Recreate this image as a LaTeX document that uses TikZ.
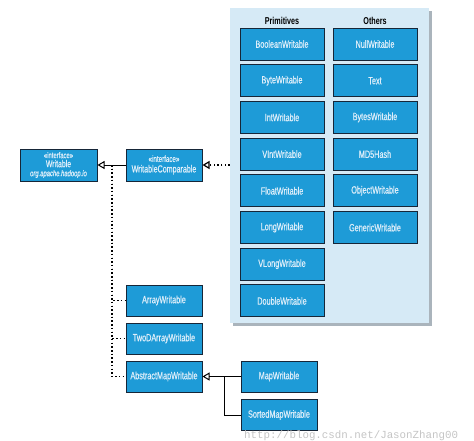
\documentclass[tikz,border=0pt]{standalone}
\usepackage{fontspec}
\setmainfont{Liberation Sans}[FakeStretch=0.72]
\newfontfamily\boxfont{Liberation Sans}[FakeStretch=0.69, FakeBold=0.6]
\newfontfamily\wmfont{Liberation Mono}
\usetikzlibrary{arrows.meta}
\definecolor{boxblue}{RGB}{30,155,215}
\definecolor{boxedge}{RGB}{22,38,56}
\definecolor{boxtext}{RGB}{222,238,250}
\definecolor{panelfill}{RGB}{214,234,246}
\definecolor{shadowc}{RGB}{170,180,188}
\definecolor{wmgray}{RGB}{196,196,196}
\tikzset{
  cls/.style={draw=boxedge, line width=1pt, fill=boxblue, text=boxtext,
    minimum width=84pt, minimum height=32pt, inner sep=0pt, align=center,
    font=\boxfont\fontsize{10.5}{11}\selectfont},
  clsn/.style={cls, minimum width=76pt},
  hdr/.style={font=\bfseries\fontsize{10}{10}\selectfont, text=black, inner sep=0pt},
  inh/.style={line width=1pt, -{Triangle[open, length=7pt, width=8pt]}},
  real/.style={line width=1.2pt, dash pattern=on 1.5pt off 2.2pt, -{Triangle[open, length=7pt, width=8pt]}},
  dotl/.style={line width=1.2pt, dash pattern=on 1.5pt off 2.2pt},
  solidl/.style={line width=1pt},
}
\begin{document}
\begin{tikzpicture}[x=1pt,y=-1pt]
\useasboundingbox (0,0) rectangle (474,440);
% panel with shadow
\fill[shadowc] (233,11) rectangle (432,326);
\node[fill=panelfill, minimum width=199pt, minimum height=315pt, inner sep=0pt] (panel) at (329.5,165.5) {};
\node[hdr] (hp) at (282,21) {Primitives};
\node[hdr] (ho) at (375,21) {Others};
% primitives
\node[cls] (p1) at (282,44) {BooleanWritable};
\node[cls] (p2) at (282,80.7) {ByteWritable};
\node[cls] (p3) at (282,117.4) {IntWritable};
\node[cls] (p4) at (282,154.1) {VIntWritable};
\node[cls] (p5) at (282,190.8) {FloatWritable};
\node[cls] (p6) at (282,227.5) {LongWritable};
\node[cls] (p7) at (282,264.2) {VLongWritable};
\node[cls] (p8) at (282,300.9) {DoubleWritable};
% others
\node[cls] (o1) at (375,44) {NullWritable};
\node[cls] (o2) at (375,80.7) {Text};
\node[cls] (o3) at (375,117.4) {BytesWritable};
\node[cls] (o4) at (375,154.1) {MD5Hash};
\node[cls] (o5) at (375,190.8) {ObjectWritable};
\node[cls] (o6) at (375,227.5) {GenericWritable};
% interfaces
\node[clsn, minimum width=77pt, font=\boxfont\fontsize{8.5}{9}\selectfont] (w) at (58.5,165)
  {«interface»\\{\fontsize{10}{9}\selectfont Writable}\\\textit{org.apache.hadoop.io}};
\node[clsn, font=\boxfont\fontsize{10.3}{10.5}\selectfont] (wc) at (164,165) {{\fontsize{9}{10}\selectfont «interface»}\\WritableComparable};
% lower classes
\node[clsn, minimum height=31pt] (aw) at (164,300.5) {ArrayWritable};
\node[clsn, minimum height=31pt] (tw) at (164,338.5) {TwoDArrayWritable};
\node[clsn, minimum height=31pt] (amw) at (164,376.5) {AbstractMapWritable};
\node[clsn, minimum height=31pt] (mw) at (279,376.5) {MapWritable};
\node[clsn, minimum height=31pt] (smw) at (279,415) {SortedMapWritable};
% connectors
\draw[inh] (wc.west) -- (w.east);
\draw[real] (panel.west |- wc.east) -- (wc.east);
\coordinate (j) at (112,165);
\draw[dotl] (j) |- (amw.west);
\draw[dotl] (j) |- (aw.west);
\draw[dotl] (j) |- (tw.west);
\draw[inh] (mw.west) -- (amw.east);
\coordinate (k) at (224,376.5);
\draw[solidl] (smw.west) -| (k);
% watermark
\node[anchor=base west, inner sep=0pt, text=wmgray, font=\wmfont\fontsize{10.8}{12}\selectfont] (wm) at (244,438) {http://blog.csdn.net/JasonZhang00};
\end{tikzpicture}
\end{document}
